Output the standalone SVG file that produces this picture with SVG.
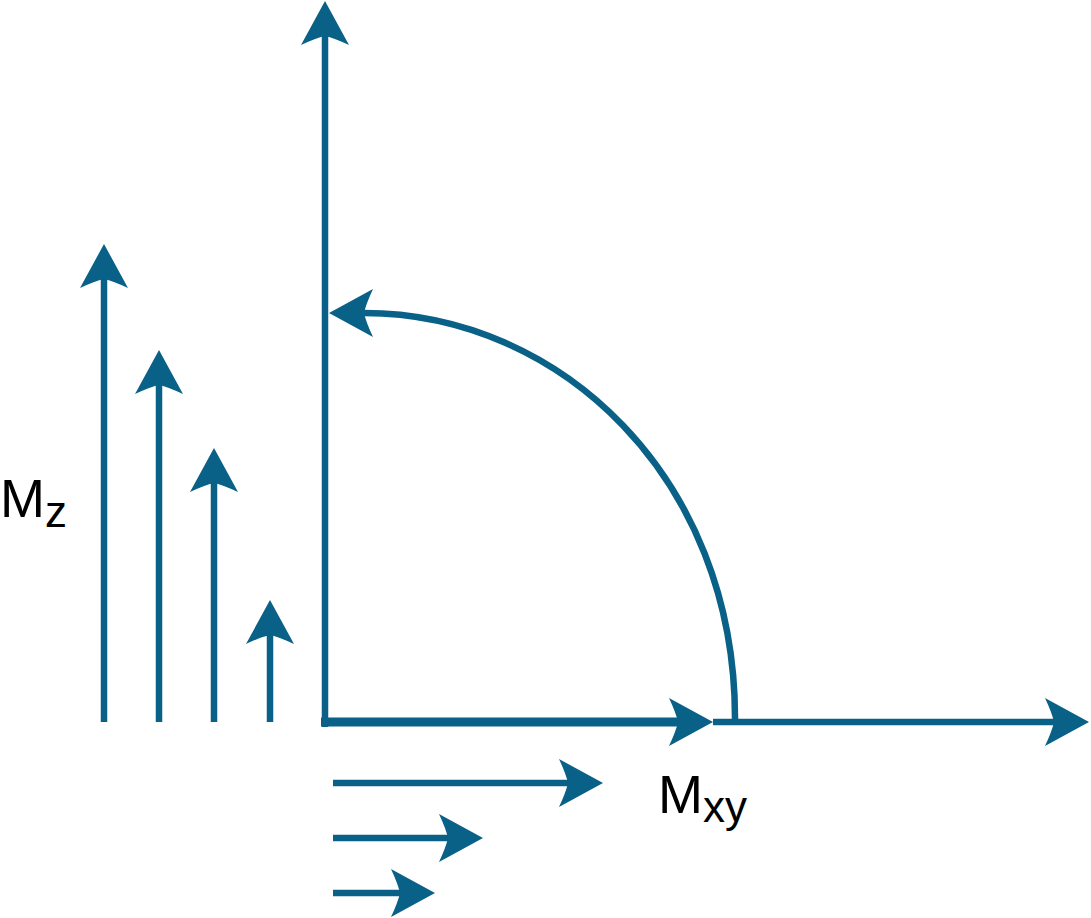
<svg xmlns="http://www.w3.org/2000/svg" width="1091" height="918" viewBox="0 0 1091 918">
  <defs>
    <marker id="ah" markerUnits="userSpaceOnUse" viewBox="-46 -26 50 52" markerWidth="50" markerHeight="52" refX="-35" refY="0" orient="auto" overflow="visible">
      <path d="M0,0 L-44,-24 Q-37,-9 -35,0 Q-37,9 -44,24 Z" fill="#0a6187"/>
    </marker>
    <style>
      .ax { fill: none; stroke: #0a6187; stroke-width: 6.5; }
      .thick { stroke-width: 9; }
      .arr { marker-end: url(#ah); }
      .lbl { font-size: 54px; fill: #000; }
      .sub { font-size: 44px; }
    </style>
  </defs>
  <rect width="1091" height="918" fill="#ffffff"/>
  <g id="connectors">
    <line class="ax arr" x1="325" y1="727" x2="325" y2="36"/>
    <line class="ax arr thick" x1="321" y1="722" x2="678" y2="722"/>
    <line class="ax arr" x1="713" y1="722" x2="1054" y2="722"/>
    <path class="ax arr" d="M735,722 L735,718 C735,478 560,313 364,313"/>
    <line class="ax arr" x1="104" y1="722" x2="104" y2="279"/>
    <line class="ax arr" x1="159" y1="722" x2="159" y2="385"/>
    <line class="ax arr" x1="214" y1="722" x2="214" y2="483"/>
    <line class="ax arr" x1="270" y1="722" x2="270" y2="635"/>
    <line class="ax arr" x1="333" y1="783" x2="568" y2="783"/>
    <line class="ax arr" x1="333" y1="838" x2="448" y2="838"/>
    <line class="ax arr" x1="333" y1="893" x2="400" y2="893"/>
  </g>
  <g id="label-mz">
    <text class="lbl" font-family="'Liberation Sans', Arial, sans-serif" x="0" y="517">M<tspan class="sub" dy="10">z</tspan></text>
  </g>
  <g id="label-mxy">
    <text class="lbl" font-family="'Liberation Sans', Arial, sans-serif" x="658" y="813">M<tspan class="sub" dy="9">xy</tspan></text>
  </g>
</svg>
